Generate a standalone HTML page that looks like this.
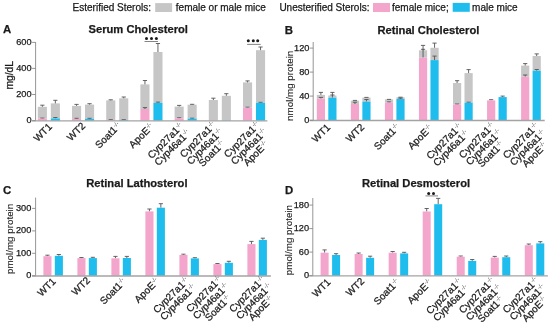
<!DOCTYPE html>
<html><head><meta charset="utf-8"><style>
html,body{margin:0;padding:0;background:#fff;}
#wrap{position:relative;width:550px;height:326px;overflow:hidden;background:#fff;font-family:"Liberation Sans",sans-serif;}
svg{position:absolute;left:0;top:0;font-family:"Liberation Sans",sans-serif;will-change:transform;}
svg text{stroke:#1a1a1a;stroke-width:0.25px;}
svg text.sp{stroke:none;fill:#333;}
.xl{position:absolute;transform-origin:100% 0;transform:rotate(-45deg);text-align:center;white-space:nowrap;font-size:10px;line-height:9.8px;color:#1a1a1a;}
.xl .s{font-size:6px;vertical-align:4px;line-height:0;}
</style></head><body><div id="wrap">
<svg width="550" height="326" viewBox="0 0 550 326">
<rect x="37.8" y="106.8" width="9.1" height="11.8" fill="#c6c6c6"/>
<line x1="42.35" y1="105.2" x2="42.35" y2="106.8" stroke="#555" stroke-width="0.9"/>
<line x1="40.25" y1="105.2" x2="44.45" y2="105.2" stroke="#555" stroke-width="0.9"/>
<line x1="42.35" y1="118.1" x2="42.35" y2="118.6" stroke="#555" stroke-width="0.9"/>
<line x1="40.25" y1="118.1" x2="44.45" y2="118.1" stroke="#555" stroke-width="0.9"/>
<rect x="37.8" y="118.6" width="9.1" height="2.1" fill="#f4a5cc"/>
<rect x="50.8" y="103.4" width="9.1" height="15" fill="#c6c6c6"/>
<line x1="55.35" y1="100.3" x2="55.35" y2="103.4" stroke="#555" stroke-width="0.9"/>
<line x1="53.25" y1="100.3" x2="57.45" y2="100.3" stroke="#555" stroke-width="0.9"/>
<line x1="55.35" y1="117.5" x2="55.35" y2="118.4" stroke="#555" stroke-width="0.9"/>
<line x1="53.25" y1="117.5" x2="57.45" y2="117.5" stroke="#555" stroke-width="0.9"/>
<rect x="50.8" y="118.4" width="9.1" height="2.3" fill="#1fbdee"/>
<rect x="72" y="105.9" width="9.1" height="13" fill="#c6c6c6"/>
<line x1="76.55" y1="104.4" x2="76.55" y2="105.9" stroke="#555" stroke-width="0.9"/>
<line x1="74.45" y1="104.4" x2="78.65" y2="104.4" stroke="#555" stroke-width="0.9"/>
<line x1="76.55" y1="118.3" x2="76.55" y2="118.9" stroke="#555" stroke-width="0.9"/>
<line x1="74.45" y1="118.3" x2="78.65" y2="118.3" stroke="#555" stroke-width="0.9"/>
<rect x="72" y="118.9" width="9.1" height="1.8" fill="#f4a5cc"/>
<rect x="85" y="104.6" width="9.1" height="14.3" fill="#c6c6c6"/>
<line x1="89.55" y1="103.7" x2="89.55" y2="104.6" stroke="#555" stroke-width="0.9"/>
<line x1="87.45" y1="103.7" x2="91.65" y2="103.7" stroke="#555" stroke-width="0.9"/>
<line x1="89.55" y1="118.3" x2="89.55" y2="118.9" stroke="#555" stroke-width="0.9"/>
<line x1="87.45" y1="118.3" x2="91.65" y2="118.3" stroke="#555" stroke-width="0.9"/>
<rect x="85" y="118.9" width="9.1" height="1.8" fill="#1fbdee"/>
<rect x="106.2" y="100.4" width="9.1" height="19.5" fill="#c6c6c6"/>
<line x1="110.75" y1="99.8" x2="110.75" y2="100.4" stroke="#555" stroke-width="0.9"/>
<line x1="108.65" y1="99.8" x2="112.85" y2="99.8" stroke="#555" stroke-width="0.9"/>
<line x1="110.75" y1="119.6" x2="110.75" y2="119.9" stroke="#555" stroke-width="0.9"/>
<line x1="108.65" y1="119.6" x2="112.85" y2="119.6" stroke="#555" stroke-width="0.9"/>
<rect x="106.2" y="119.9" width="9.1" height="0.8" fill="#f4a5cc"/>
<rect x="119.2" y="98.3" width="9.1" height="21.7" fill="#c6c6c6"/>
<line x1="123.75" y1="97" x2="123.75" y2="98.3" stroke="#555" stroke-width="0.9"/>
<line x1="121.65" y1="97" x2="125.85" y2="97" stroke="#555" stroke-width="0.9"/>
<line x1="121.65" y1="119.7" x2="125.85" y2="119.7" stroke="#555" stroke-width="0.9"/>
<rect x="119.2" y="120" width="9.1" height="0.7" fill="#1fbdee"/>
<rect x="140.4" y="84.4" width="9.1" height="24.6" fill="#c6c6c6"/>
<line x1="144.95" y1="80.5" x2="144.95" y2="84.4" stroke="#555" stroke-width="0.9"/>
<line x1="142.85" y1="80.5" x2="147.05" y2="80.5" stroke="#555" stroke-width="0.9"/>
<line x1="144.95" y1="107.6" x2="144.95" y2="109" stroke="#555" stroke-width="0.9"/>
<line x1="142.85" y1="107.6" x2="147.05" y2="107.6" stroke="#555" stroke-width="0.9"/>
<rect x="140.4" y="109" width="9.1" height="11.7" fill="#f4a5cc"/>
<rect x="153.4" y="52" width="9.1" height="50.9" fill="#c6c6c6"/>
<line x1="157.95" y1="43.5" x2="157.95" y2="52" stroke="#555" stroke-width="0.9"/>
<line x1="155.85" y1="43.5" x2="160.05" y2="43.5" stroke="#555" stroke-width="0.9"/>
<line x1="157.95" y1="102.1" x2="157.95" y2="102.9" stroke="#555" stroke-width="0.9"/>
<line x1="155.85" y1="102.1" x2="160.05" y2="102.1" stroke="#555" stroke-width="0.9"/>
<rect x="153.4" y="102.9" width="9.1" height="17.8" fill="#1fbdee"/>
<rect x="174.6" y="106.6" width="9.1" height="11.7" fill="#c6c6c6"/>
<line x1="179.15" y1="105.4" x2="179.15" y2="106.6" stroke="#555" stroke-width="0.9"/>
<line x1="177.05" y1="105.4" x2="181.25" y2="105.4" stroke="#555" stroke-width="0.9"/>
<line x1="179.15" y1="117.8" x2="179.15" y2="118.3" stroke="#555" stroke-width="0.9"/>
<line x1="177.05" y1="117.8" x2="181.25" y2="117.8" stroke="#555" stroke-width="0.9"/>
<rect x="174.6" y="118.3" width="9.1" height="2.4" fill="#f4a5cc"/>
<rect x="187.6" y="104.7" width="9.1" height="14" fill="#c6c6c6"/>
<line x1="192.15" y1="104.3" x2="192.15" y2="104.7" stroke="#555" stroke-width="0.9"/>
<line x1="190.05" y1="104.3" x2="194.25" y2="104.3" stroke="#555" stroke-width="0.9"/>
<line x1="192.15" y1="118.2" x2="192.15" y2="118.7" stroke="#555" stroke-width="0.9"/>
<line x1="190.05" y1="118.2" x2="194.25" y2="118.2" stroke="#555" stroke-width="0.9"/>
<rect x="187.6" y="118.7" width="9.1" height="2" fill="#1fbdee"/>
<rect x="208.8" y="100" width="9.1" height="20.3" fill="#c6c6c6"/>
<line x1="213.35" y1="98.2" x2="213.35" y2="100" stroke="#555" stroke-width="0.9"/>
<line x1="211.25" y1="98.2" x2="215.45" y2="98.2" stroke="#555" stroke-width="0.9"/>
<rect x="208.8" y="120.3" width="9.1" height="0.4" fill="#f4a5cc"/>
<rect x="221.8" y="95.8" width="9.1" height="24.5" fill="#c6c6c6"/>
<line x1="226.35" y1="93.7" x2="226.35" y2="95.8" stroke="#555" stroke-width="0.9"/>
<line x1="224.25" y1="93.7" x2="228.45" y2="93.7" stroke="#555" stroke-width="0.9"/>
<rect x="221.8" y="120.3" width="9.1" height="0.4" fill="#1fbdee"/>
<rect x="243" y="82.4" width="9.1" height="25.3" fill="#c6c6c6"/>
<line x1="247.55" y1="80.9" x2="247.55" y2="82.4" stroke="#555" stroke-width="0.9"/>
<line x1="245.45" y1="80.9" x2="249.65" y2="80.9" stroke="#555" stroke-width="0.9"/>
<line x1="247.55" y1="107.2" x2="247.55" y2="107.7" stroke="#555" stroke-width="0.9"/>
<line x1="245.45" y1="107.2" x2="249.65" y2="107.2" stroke="#555" stroke-width="0.9"/>
<rect x="243" y="107.7" width="9.1" height="13" fill="#f4a5cc"/>
<rect x="256" y="50.2" width="9.1" height="52.6" fill="#c6c6c6"/>
<line x1="260.55" y1="47" x2="260.55" y2="50.2" stroke="#555" stroke-width="0.9"/>
<line x1="258.45" y1="47" x2="262.65" y2="47" stroke="#555" stroke-width="0.9"/>
<line x1="260.55" y1="102.3" x2="260.55" y2="102.8" stroke="#555" stroke-width="0.9"/>
<line x1="258.45" y1="102.3" x2="262.65" y2="102.3" stroke="#555" stroke-width="0.9"/>
<rect x="256" y="102.8" width="9.1" height="17.9" fill="#1fbdee"/>
<line x1="35.6" y1="42" x2="35.6" y2="120.7" stroke="#8a8a8a" stroke-width="0.9"/>
<line x1="32.1" y1="120.9" x2="267.4" y2="120.9" stroke="#a3a3a3" stroke-width="1.3"/>
<line x1="32.1" y1="120.7" x2="35.6" y2="120.7" stroke="#8a8a8a" stroke-width="0.9"/>
<text x="31.6" y="123.1" text-anchor="end" font-size="9.2" fill="#1a1a1a">0</text>
<line x1="32.1" y1="94.5" x2="35.6" y2="94.5" stroke="#8a8a8a" stroke-width="0.9"/>
<text x="31.6" y="96.9" text-anchor="end" font-size="9.2" fill="#1a1a1a">200</text>
<line x1="32.1" y1="68.4" x2="35.6" y2="68.4" stroke="#8a8a8a" stroke-width="0.9"/>
<text x="31.6" y="70.8" text-anchor="end" font-size="9.2" fill="#1a1a1a">400</text>
<line x1="32.1" y1="42.4" x2="35.6" y2="42.4" stroke="#8a8a8a" stroke-width="0.9"/>
<text x="31.6" y="44.8" text-anchor="end" font-size="9.2" fill="#1a1a1a">600</text>
<g transform="translate(52.6,127.39999999999999) rotate(-45)" fill="#1a1a1a"><text x="0.00" y="0.00" text-anchor="end" font-size="10.0">WT1</text></g>
<g transform="translate(85.9,126.6) rotate(-45)" fill="#1a1a1a"><text x="0.00" y="0.00" text-anchor="end" font-size="10.0">WT2</text></g>
<g transform="translate(117.80000000000001,130.4) rotate(-45)" fill="#1a1a1a"><text x="0.00" y="0.00" text-anchor="end" font-size="10.0">Soat1</text><text x="0.10" y="-3.60" font-size="6.0" class="sp">-/-</text></g>
<g transform="translate(150.4,131.4) rotate(-45)" fill="#1a1a1a"><text x="0.00" y="0.00" text-anchor="end" font-size="10.0">ApoE</text><text x="0.10" y="-3.60" font-size="6.0" class="sp">-/-</text></g>
<g transform="translate(180.0,130.9) rotate(-45)" fill="#1a1a1a"><text x="0.00" y="0.00" text-anchor="end" font-size="10.0">Cyp27a1</text><text x="0.10" y="-3.60" font-size="6.0" class="sp">-/-</text><text x="0.00" y="9.80" text-anchor="end" font-size="10.0">Cyp46a1</text><text x="0.10" y="6.20" font-size="6.0" class="sp">-/-</text></g>
<g transform="translate(212.4,129.9) rotate(-45)" fill="#1a1a1a"><text x="0.00" y="0.00" text-anchor="end" font-size="10.0">Cyp27a1</text><text x="0.10" y="-3.60" font-size="6.0" class="sp">-/-</text><text x="0.00" y="9.80" text-anchor="end" font-size="10.0">Cyp46a1</text><text x="0.10" y="6.20" font-size="6.0" class="sp">-/-</text><text x="-6.95" y="19.60" text-anchor="end" font-size="10.0">Soat1</text><text x="-6.85" y="16.00" font-size="6.0" class="sp">-/-</text></g>
<g transform="translate(256.4,129.9) rotate(-45)" fill="#1a1a1a"><text x="0.00" y="0.00" text-anchor="end" font-size="10.0">Cyp27a1</text><text x="0.10" y="-3.60" font-size="6.0" class="sp">-/-</text><text x="0.00" y="9.80" text-anchor="end" font-size="10.0">Cyp46a1</text><text x="0.10" y="6.20" font-size="6.0" class="sp">-/-</text><text x="-7.78" y="19.60" text-anchor="end" font-size="10.0">ApoE</text><text x="-7.68" y="16.00" font-size="6.0" class="sp">-/-</text></g>
<rect x="316.8" y="94.9" width="8.2" height="3.7" fill="#c6c6c6"/>
<line x1="320.9" y1="92.4" x2="320.9" y2="94.9" stroke="#555" stroke-width="0.9"/>
<line x1="318.8" y1="92.4" x2="323" y2="92.4" stroke="#555" stroke-width="0.9"/>
<line x1="320.9" y1="97.4" x2="320.9" y2="98.6" stroke="#555" stroke-width="0.9"/>
<line x1="318.8" y1="97.4" x2="323" y2="97.4" stroke="#555" stroke-width="0.9"/>
<rect x="316.8" y="98.6" width="8.2" height="21.7" fill="#f4a5cc"/>
<rect x="328.3" y="95.5" width="8.2" height="2.2" fill="#c6c6c6"/>
<line x1="332.4" y1="92.4" x2="332.4" y2="95.5" stroke="#555" stroke-width="0.9"/>
<line x1="330.3" y1="92.4" x2="334.5" y2="92.4" stroke="#555" stroke-width="0.9"/>
<line x1="332.4" y1="95" x2="332.4" y2="97.7" stroke="#555" stroke-width="0.9"/>
<line x1="330.3" y1="95" x2="334.5" y2="95" stroke="#555" stroke-width="0.9"/>
<rect x="328.3" y="97.7" width="8.2" height="22.6" fill="#1fbdee"/>
<rect x="350.85" y="100.7" width="8.2" height="3.3" fill="#c6c6c6"/>
<line x1="352.85" y1="100.4" x2="357.05" y2="100.4" stroke="#555" stroke-width="0.9"/>
<line x1="354.95" y1="102.2" x2="354.95" y2="104" stroke="#555" stroke-width="0.9"/>
<line x1="352.85" y1="102.2" x2="357.05" y2="102.2" stroke="#555" stroke-width="0.9"/>
<rect x="350.85" y="104" width="8.2" height="16.3" fill="#f4a5cc"/>
<rect x="362.35" y="97.6" width="8.2" height="4" fill="#c6c6c6"/>
<line x1="364.35" y1="97.4" x2="368.55" y2="97.4" stroke="#555" stroke-width="0.9"/>
<line x1="366.45" y1="99.5" x2="366.45" y2="101.6" stroke="#555" stroke-width="0.9"/>
<line x1="364.35" y1="99.5" x2="368.55" y2="99.5" stroke="#555" stroke-width="0.9"/>
<rect x="362.35" y="101.6" width="8.2" height="18.7" fill="#1fbdee"/>
<rect x="384.9" y="99.4" width="8.2" height="3.2" fill="#c6c6c6"/>
<line x1="386.9" y1="99.4" x2="391.1" y2="99.4" stroke="#555" stroke-width="0.9"/>
<line x1="389" y1="101.9" x2="389" y2="102.6" stroke="#555" stroke-width="0.9"/>
<line x1="386.9" y1="101.9" x2="391.1" y2="101.9" stroke="#555" stroke-width="0.9"/>
<rect x="384.9" y="102.6" width="8.2" height="17.7" fill="#f4a5cc"/>
<rect x="396.4" y="97.2" width="8.2" height="1.8" fill="#c6c6c6"/>
<line x1="398.4" y1="97.2" x2="402.6" y2="97.2" stroke="#555" stroke-width="0.9"/>
<line x1="400.5" y1="98.2" x2="400.5" y2="99" stroke="#555" stroke-width="0.9"/>
<line x1="398.4" y1="98.2" x2="402.6" y2="98.2" stroke="#555" stroke-width="0.9"/>
<rect x="396.4" y="99" width="8.2" height="21.3" fill="#1fbdee"/>
<rect x="418.95" y="50.3" width="8.2" height="7.3" fill="#c6c6c6"/>
<line x1="423.05" y1="45.4" x2="423.05" y2="50.3" stroke="#555" stroke-width="0.9"/>
<line x1="420.95" y1="45.4" x2="425.15" y2="45.4" stroke="#555" stroke-width="0.9"/>
<line x1="423.05" y1="49.3" x2="423.05" y2="57.6" stroke="#555" stroke-width="0.9"/>
<line x1="420.95" y1="49.3" x2="425.15" y2="49.3" stroke="#555" stroke-width="0.9"/>
<rect x="418.95" y="57.6" width="8.2" height="62.7" fill="#f4a5cc"/>
<rect x="430.45" y="47.8" width="8.2" height="12.3" fill="#c6c6c6"/>
<line x1="434.55" y1="43.1" x2="434.55" y2="47.8" stroke="#555" stroke-width="0.9"/>
<line x1="432.45" y1="43.1" x2="436.65" y2="43.1" stroke="#555" stroke-width="0.9"/>
<line x1="434.55" y1="56.1" x2="434.55" y2="60.1" stroke="#555" stroke-width="0.9"/>
<line x1="432.45" y1="56.1" x2="436.65" y2="56.1" stroke="#555" stroke-width="0.9"/>
<rect x="430.45" y="60.1" width="8.2" height="60.2" fill="#1fbdee"/>
<rect x="453" y="83" width="8.2" height="21.5" fill="#c6c6c6"/>
<line x1="457.1" y1="80.7" x2="457.1" y2="83" stroke="#555" stroke-width="0.9"/>
<line x1="455" y1="80.7" x2="459.2" y2="80.7" stroke="#555" stroke-width="0.9"/>
<line x1="457.1" y1="104" x2="457.1" y2="104.5" stroke="#555" stroke-width="0.9"/>
<line x1="455" y1="104" x2="459.2" y2="104" stroke="#555" stroke-width="0.9"/>
<rect x="453" y="104.5" width="8.2" height="15.8" fill="#f4a5cc"/>
<rect x="464.5" y="73.1" width="8.2" height="29.6" fill="#c6c6c6"/>
<line x1="468.6" y1="69.6" x2="468.6" y2="73.1" stroke="#555" stroke-width="0.9"/>
<line x1="466.5" y1="69.6" x2="470.7" y2="69.6" stroke="#555" stroke-width="0.9"/>
<line x1="468.6" y1="102.2" x2="468.6" y2="102.7" stroke="#555" stroke-width="0.9"/>
<line x1="466.5" y1="102.2" x2="470.7" y2="102.2" stroke="#555" stroke-width="0.9"/>
<rect x="464.5" y="102.7" width="8.2" height="17.6" fill="#1fbdee"/>
<line x1="491.15" y1="99.7" x2="491.15" y2="100.4" stroke="#555" stroke-width="0.9"/>
<line x1="489.05" y1="99.7" x2="493.25" y2="99.7" stroke="#555" stroke-width="0.9"/>
<rect x="487.05" y="100.4" width="8.2" height="19.9" fill="#f4a5cc"/>
<line x1="502.65" y1="96.1" x2="502.65" y2="97.1" stroke="#555" stroke-width="0.9"/>
<line x1="500.55" y1="96.1" x2="504.75" y2="96.1" stroke="#555" stroke-width="0.9"/>
<rect x="498.55" y="97.1" width="8.2" height="23.2" fill="#1fbdee"/>
<rect x="521.1" y="65.6" width="8.2" height="11.1" fill="#c6c6c6"/>
<line x1="525.2" y1="63.6" x2="525.2" y2="65.6" stroke="#555" stroke-width="0.9"/>
<line x1="523.1" y1="63.6" x2="527.3" y2="63.6" stroke="#555" stroke-width="0.9"/>
<line x1="525.2" y1="75" x2="525.2" y2="76.7" stroke="#555" stroke-width="0.9"/>
<line x1="523.1" y1="75" x2="527.3" y2="75" stroke="#555" stroke-width="0.9"/>
<rect x="521.1" y="76.7" width="8.2" height="43.6" fill="#f4a5cc"/>
<rect x="532.6" y="56" width="8.2" height="14.7" fill="#c6c6c6"/>
<line x1="536.7" y1="53.9" x2="536.7" y2="56" stroke="#555" stroke-width="0.9"/>
<line x1="534.6" y1="53.9" x2="538.8" y2="53.9" stroke="#555" stroke-width="0.9"/>
<line x1="536.7" y1="69.5" x2="536.7" y2="70.7" stroke="#555" stroke-width="0.9"/>
<line x1="534.6" y1="69.5" x2="538.8" y2="69.5" stroke="#555" stroke-width="0.9"/>
<rect x="532.6" y="70.7" width="8.2" height="49.6" fill="#1fbdee"/>
<line x1="313.2" y1="42" x2="313.2" y2="120.3" stroke="#8a8a8a" stroke-width="0.9"/>
<line x1="309.7" y1="120.5" x2="544.7" y2="120.5" stroke="#a3a3a3" stroke-width="1.3"/>
<line x1="309.7" y1="120.3" x2="313.2" y2="120.3" stroke="#8a8a8a" stroke-width="0.9"/>
<text x="309.4" y="122.7" text-anchor="end" font-size="9.2" fill="#1a1a1a">0</text>
<line x1="309.7" y1="96.1" x2="313.2" y2="96.1" stroke="#8a8a8a" stroke-width="0.9"/>
<text x="309.4" y="98.5" text-anchor="end" font-size="9.2" fill="#1a1a1a">40</text>
<line x1="309.7" y1="72.1" x2="313.2" y2="72.1" stroke="#8a8a8a" stroke-width="0.9"/>
<text x="309.4" y="74.5" text-anchor="end" font-size="9.2" fill="#1a1a1a">80</text>
<line x1="309.7" y1="48.1" x2="313.2" y2="48.1" stroke="#8a8a8a" stroke-width="0.9"/>
<text x="309.4" y="50.5" text-anchor="end" font-size="9.2" fill="#1a1a1a">120</text>
<g transform="translate(330.9,127.99999999999999) rotate(-45)" fill="#1a1a1a"><text x="0.00" y="0.00" text-anchor="end" font-size="10.0">WT1</text></g>
<g transform="translate(364.9,127.8) rotate(-45)" fill="#1a1a1a"><text x="0.00" y="0.00" text-anchor="end" font-size="10.0">WT2</text></g>
<g transform="translate(396.4,131.9) rotate(-45)" fill="#1a1a1a"><text x="0.00" y="0.00" text-anchor="end" font-size="10.0">Soat1</text><text x="0.10" y="-3.60" font-size="6.0" class="sp">-/-</text></g>
<g transform="translate(429.2,132.8) rotate(-45)" fill="#1a1a1a"><text x="0.00" y="0.00" text-anchor="end" font-size="10.0">ApoE</text><text x="0.10" y="-3.60" font-size="6.0" class="sp">-/-</text></g>
<g transform="translate(458.7,131.5) rotate(-45)" fill="#1a1a1a"><text x="0.00" y="0.00" text-anchor="end" font-size="10.0">Cyp27a1</text><text x="0.10" y="-3.60" font-size="6.0" class="sp">-/-</text><text x="0.00" y="9.80" text-anchor="end" font-size="10.0">Cyp46a1</text><text x="0.10" y="6.20" font-size="6.0" class="sp">-/-</text></g>
<g transform="translate(491.4,130.60000000000002) rotate(-45)" fill="#1a1a1a"><text x="0.00" y="0.00" text-anchor="end" font-size="10.0">Cyp27a1</text><text x="0.10" y="-3.60" font-size="6.0" class="sp">-/-</text><text x="0.00" y="9.80" text-anchor="end" font-size="10.0">Cyp46a1</text><text x="0.10" y="6.20" font-size="6.0" class="sp">-/-</text><text x="-6.95" y="19.60" text-anchor="end" font-size="10.0">Soat1</text><text x="-6.85" y="16.00" font-size="6.0" class="sp">-/-</text></g>
<g transform="translate(535.3,131.0) rotate(-45)" fill="#1a1a1a"><text x="0.00" y="0.00" text-anchor="end" font-size="10.0">Cyp27a1</text><text x="0.10" y="-3.60" font-size="6.0" class="sp">-/-</text><text x="0.00" y="9.80" text-anchor="end" font-size="10.0">Cyp46a1</text><text x="0.10" y="6.20" font-size="6.0" class="sp">-/-</text><text x="-7.78" y="19.60" text-anchor="end" font-size="10.0">ApoE</text><text x="-7.68" y="16.00" font-size="6.0" class="sp">-/-</text></g>
<line x1="47.45" y1="255.2" x2="47.45" y2="256.2" stroke="#555" stroke-width="0.9"/>
<line x1="45.35" y1="255.2" x2="49.55" y2="255.2" stroke="#555" stroke-width="0.9"/>
<rect x="43.4" y="256.2" width="8.1" height="19.6" fill="#f4a5cc"/>
<line x1="58.85" y1="254.5" x2="58.85" y2="255.8" stroke="#555" stroke-width="0.9"/>
<line x1="56.75" y1="254.5" x2="60.95" y2="254.5" stroke="#555" stroke-width="0.9"/>
<rect x="54.8" y="255.8" width="8.1" height="20" fill="#1fbdee"/>
<line x1="81.45" y1="257.5" x2="81.45" y2="258.1" stroke="#555" stroke-width="0.9"/>
<line x1="79.35" y1="257.5" x2="83.55" y2="257.5" stroke="#555" stroke-width="0.9"/>
<rect x="77.4" y="258.1" width="8.1" height="17.7" fill="#f4a5cc"/>
<line x1="92.85" y1="257.3" x2="92.85" y2="258.1" stroke="#555" stroke-width="0.9"/>
<line x1="90.75" y1="257.3" x2="94.95" y2="257.3" stroke="#555" stroke-width="0.9"/>
<rect x="88.8" y="258.1" width="8.1" height="17.7" fill="#1fbdee"/>
<line x1="115.45" y1="256.4" x2="115.45" y2="258.3" stroke="#555" stroke-width="0.9"/>
<line x1="113.35" y1="256.4" x2="117.55" y2="256.4" stroke="#555" stroke-width="0.9"/>
<rect x="111.4" y="258.3" width="8.1" height="17.5" fill="#f4a5cc"/>
<line x1="126.85" y1="256.4" x2="126.85" y2="258" stroke="#555" stroke-width="0.9"/>
<line x1="124.75" y1="256.4" x2="128.95" y2="256.4" stroke="#555" stroke-width="0.9"/>
<rect x="122.8" y="258" width="8.1" height="17.8" fill="#1fbdee"/>
<line x1="149.45" y1="209" x2="149.45" y2="211.4" stroke="#555" stroke-width="0.9"/>
<line x1="147.35" y1="209" x2="151.55" y2="209" stroke="#555" stroke-width="0.9"/>
<rect x="145.4" y="211.4" width="8.1" height="64.4" fill="#f4a5cc"/>
<line x1="160.85" y1="203.7" x2="160.85" y2="207.7" stroke="#555" stroke-width="0.9"/>
<line x1="158.75" y1="203.7" x2="162.95" y2="203.7" stroke="#555" stroke-width="0.9"/>
<rect x="156.8" y="207.7" width="8.1" height="68.1" fill="#1fbdee"/>
<line x1="183.45" y1="254.2" x2="183.45" y2="254.9" stroke="#555" stroke-width="0.9"/>
<line x1="181.35" y1="254.2" x2="185.55" y2="254.2" stroke="#555" stroke-width="0.9"/>
<rect x="179.4" y="254.9" width="8.1" height="20.9" fill="#f4a5cc"/>
<line x1="194.85" y1="257.7" x2="194.85" y2="258.4" stroke="#555" stroke-width="0.9"/>
<line x1="192.75" y1="257.7" x2="196.95" y2="257.7" stroke="#555" stroke-width="0.9"/>
<rect x="190.8" y="258.4" width="8.1" height="17.4" fill="#1fbdee"/>
<line x1="217.45" y1="263.5" x2="217.45" y2="264.1" stroke="#555" stroke-width="0.9"/>
<line x1="215.35" y1="263.5" x2="219.55" y2="263.5" stroke="#555" stroke-width="0.9"/>
<rect x="213.4" y="264.1" width="8.1" height="11.7" fill="#f4a5cc"/>
<line x1="228.85" y1="261.3" x2="228.85" y2="262.8" stroke="#555" stroke-width="0.9"/>
<line x1="226.75" y1="261.3" x2="230.95" y2="261.3" stroke="#555" stroke-width="0.9"/>
<rect x="224.8" y="262.8" width="8.1" height="13" fill="#1fbdee"/>
<line x1="251.45" y1="241.4" x2="251.45" y2="244.1" stroke="#555" stroke-width="0.9"/>
<line x1="249.35" y1="241.4" x2="253.55" y2="241.4" stroke="#555" stroke-width="0.9"/>
<rect x="247.4" y="244.1" width="8.1" height="31.7" fill="#f4a5cc"/>
<line x1="262.85" y1="238.2" x2="262.85" y2="239.9" stroke="#555" stroke-width="0.9"/>
<line x1="260.75" y1="238.2" x2="264.95" y2="238.2" stroke="#555" stroke-width="0.9"/>
<rect x="258.8" y="239.9" width="8.1" height="35.9" fill="#1fbdee"/>
<line x1="35.6" y1="197.6" x2="35.6" y2="275.8" stroke="#8a8a8a" stroke-width="0.9"/>
<line x1="32.1" y1="276" x2="270.9" y2="276" stroke="#a3a3a3" stroke-width="1.3"/>
<line x1="32.1" y1="275.8" x2="35.6" y2="275.8" stroke="#8a8a8a" stroke-width="0.9"/>
<text x="31.3" y="278.2" text-anchor="end" font-size="9.2" fill="#1a1a1a">0</text>
<line x1="32.1" y1="253.3" x2="35.6" y2="253.3" stroke="#8a8a8a" stroke-width="0.9"/>
<text x="31.3" y="255.7" text-anchor="end" font-size="9.2" fill="#1a1a1a">100</text>
<line x1="32.1" y1="230.9" x2="35.6" y2="230.9" stroke="#8a8a8a" stroke-width="0.9"/>
<text x="31.3" y="233.3" text-anchor="end" font-size="9.2" fill="#1a1a1a">200</text>
<line x1="32.1" y1="208.4" x2="35.6" y2="208.4" stroke="#8a8a8a" stroke-width="0.9"/>
<text x="31.3" y="210.8" text-anchor="end" font-size="9.2" fill="#1a1a1a">300</text>
<g transform="translate(56.5,282.0) rotate(-45)" fill="#1a1a1a"><text x="0.00" y="0.00" text-anchor="end" font-size="10.0">WT1</text></g>
<g transform="translate(90.80000000000001,281.0) rotate(-45)" fill="#1a1a1a"><text x="0.00" y="0.00" text-anchor="end" font-size="10.0">WT2</text></g>
<g transform="translate(122.60000000000001,286.40000000000003) rotate(-45)" fill="#1a1a1a"><text x="0.00" y="0.00" text-anchor="end" font-size="10.0">Soat1</text><text x="0.10" y="-3.60" font-size="6.0" class="sp">-/-</text></g>
<g transform="translate(155.9,286.1) rotate(-45)" fill="#1a1a1a"><text x="0.00" y="0.00" text-anchor="end" font-size="10.0">ApoE</text><text x="0.10" y="-3.60" font-size="6.0" class="sp">-/-</text></g>
<g transform="translate(185.6,285.40000000000003) rotate(-45)" fill="#1a1a1a"><text x="0.00" y="0.00" text-anchor="end" font-size="10.0">Cyp27a1</text><text x="0.10" y="-3.60" font-size="6.0" class="sp">-/-</text><text x="0.00" y="9.80" text-anchor="end" font-size="10.0">Cyp46a1</text><text x="0.10" y="6.20" font-size="6.0" class="sp">-/-</text></g>
<g transform="translate(218.5,284.40000000000003) rotate(-45)" fill="#1a1a1a"><text x="0.00" y="0.00" text-anchor="end" font-size="10.0">Cyp27a1</text><text x="0.10" y="-3.60" font-size="6.0" class="sp">-/-</text><text x="0.00" y="9.80" text-anchor="end" font-size="10.0">Cyp46a1</text><text x="0.10" y="6.20" font-size="6.0" class="sp">-/-</text><text x="-6.95" y="19.60" text-anchor="end" font-size="10.0">Soat1</text><text x="-6.85" y="16.00" font-size="6.0" class="sp">-/-</text></g>
<g transform="translate(261.59999999999997,284.6) rotate(-45)" fill="#1a1a1a"><text x="0.00" y="0.00" text-anchor="end" font-size="10.0">Cyp27a1</text><text x="0.10" y="-3.60" font-size="6.0" class="sp">-/-</text><text x="0.00" y="9.80" text-anchor="end" font-size="10.0">Cyp46a1</text><text x="0.10" y="6.20" font-size="6.0" class="sp">-/-</text><text x="-7.78" y="19.60" text-anchor="end" font-size="10.0">ApoE</text><text x="-7.68" y="16.00" font-size="6.0" class="sp">-/-</text></g>
<line x1="324.6" y1="249.9" x2="324.6" y2="252.7" stroke="#555" stroke-width="0.9"/>
<line x1="322.5" y1="249.9" x2="326.7" y2="249.9" stroke="#555" stroke-width="0.9"/>
<rect x="320.6" y="252.7" width="8" height="23" fill="#f4a5cc"/>
<line x1="336.1" y1="253.7" x2="336.1" y2="255" stroke="#555" stroke-width="0.9"/>
<line x1="334" y1="253.7" x2="338.2" y2="253.7" stroke="#555" stroke-width="0.9"/>
<rect x="332.1" y="255" width="8" height="20.7" fill="#1fbdee"/>
<line x1="358.63" y1="253" x2="358.63" y2="254" stroke="#555" stroke-width="0.9"/>
<line x1="356.53" y1="253" x2="360.73" y2="253" stroke="#555" stroke-width="0.9"/>
<rect x="354.63" y="254" width="8" height="21.7" fill="#f4a5cc"/>
<line x1="370.13" y1="256.2" x2="370.13" y2="257.8" stroke="#555" stroke-width="0.9"/>
<line x1="368.03" y1="256.2" x2="372.23" y2="256.2" stroke="#555" stroke-width="0.9"/>
<rect x="366.13" y="257.8" width="8" height="17.9" fill="#1fbdee"/>
<line x1="392.66" y1="251.5" x2="392.66" y2="252.7" stroke="#555" stroke-width="0.9"/>
<line x1="390.56" y1="251.5" x2="394.76" y2="251.5" stroke="#555" stroke-width="0.9"/>
<rect x="388.66" y="252.7" width="8" height="23" fill="#f4a5cc"/>
<line x1="404.16" y1="252.3" x2="404.16" y2="253.4" stroke="#555" stroke-width="0.9"/>
<line x1="402.06" y1="252.3" x2="406.26" y2="252.3" stroke="#555" stroke-width="0.9"/>
<rect x="400.16" y="253.4" width="8" height="22.3" fill="#1fbdee"/>
<line x1="426.69" y1="208.5" x2="426.69" y2="211.5" stroke="#555" stroke-width="0.9"/>
<line x1="424.59" y1="208.5" x2="428.79" y2="208.5" stroke="#555" stroke-width="0.9"/>
<rect x="422.69" y="211.5" width="8" height="64.2" fill="#f4a5cc"/>
<line x1="438.19" y1="198.4" x2="438.19" y2="204.2" stroke="#555" stroke-width="0.9"/>
<line x1="436.09" y1="198.4" x2="440.29" y2="198.4" stroke="#555" stroke-width="0.9"/>
<rect x="434.19" y="204.2" width="8" height="71.5" fill="#1fbdee"/>
<line x1="460.72" y1="256" x2="460.72" y2="256.7" stroke="#555" stroke-width="0.9"/>
<line x1="458.62" y1="256" x2="462.82" y2="256" stroke="#555" stroke-width="0.9"/>
<rect x="456.72" y="256.7" width="8" height="19" fill="#f4a5cc"/>
<line x1="472.22" y1="259.5" x2="472.22" y2="260.9" stroke="#555" stroke-width="0.9"/>
<line x1="470.12" y1="259.5" x2="474.32" y2="259.5" stroke="#555" stroke-width="0.9"/>
<rect x="468.22" y="260.9" width="8" height="14.8" fill="#1fbdee"/>
<line x1="494.75" y1="256.4" x2="494.75" y2="257.6" stroke="#555" stroke-width="0.9"/>
<line x1="492.65" y1="256.4" x2="496.85" y2="256.4" stroke="#555" stroke-width="0.9"/>
<rect x="490.75" y="257.6" width="8" height="18.1" fill="#f4a5cc"/>
<line x1="506.25" y1="256" x2="506.25" y2="257.2" stroke="#555" stroke-width="0.9"/>
<line x1="504.15" y1="256" x2="508.35" y2="256" stroke="#555" stroke-width="0.9"/>
<rect x="502.25" y="257.2" width="8" height="18.5" fill="#1fbdee"/>
<line x1="528.78" y1="244" x2="528.78" y2="245.2" stroke="#555" stroke-width="0.9"/>
<line x1="526.68" y1="244" x2="530.88" y2="244" stroke="#555" stroke-width="0.9"/>
<rect x="524.78" y="245.2" width="8" height="30.5" fill="#f4a5cc"/>
<line x1="540.28" y1="241.7" x2="540.28" y2="243.4" stroke="#555" stroke-width="0.9"/>
<line x1="538.18" y1="241.7" x2="542.38" y2="241.7" stroke="#555" stroke-width="0.9"/>
<rect x="536.28" y="243.4" width="8" height="32.3" fill="#1fbdee"/>
<line x1="312.8" y1="198" x2="312.8" y2="275.7" stroke="#8a8a8a" stroke-width="0.9"/>
<line x1="309.3" y1="275.9" x2="547.9" y2="275.9" stroke="#a3a3a3" stroke-width="1.3"/>
<line x1="309.3" y1="275.7" x2="312.8" y2="275.7" stroke="#8a8a8a" stroke-width="0.9"/>
<text x="309" y="278.1" text-anchor="end" font-size="9.2" fill="#1a1a1a">0</text>
<line x1="309.3" y1="252.1" x2="312.8" y2="252.1" stroke="#8a8a8a" stroke-width="0.9"/>
<text x="309" y="254.5" text-anchor="end" font-size="9.2" fill="#1a1a1a">60</text>
<line x1="309.3" y1="228.6" x2="312.8" y2="228.6" stroke="#8a8a8a" stroke-width="0.9"/>
<text x="309" y="231" text-anchor="end" font-size="9.2" fill="#1a1a1a">120</text>
<line x1="309.3" y1="205.1" x2="312.8" y2="205.1" stroke="#8a8a8a" stroke-width="0.9"/>
<text x="309" y="207.5" text-anchor="end" font-size="9.2" fill="#1a1a1a">180</text>
<g transform="translate(331.2,282.8) rotate(-45)" fill="#1a1a1a"><text x="0.00" y="0.00" text-anchor="end" font-size="10.0">WT1</text></g>
<g transform="translate(365.0,281.90000000000003) rotate(-45)" fill="#1a1a1a"><text x="0.00" y="0.00" text-anchor="end" font-size="10.0">WT2</text></g>
<g transform="translate(396.2,286.90000000000003) rotate(-45)" fill="#1a1a1a"><text x="0.00" y="0.00" text-anchor="end" font-size="10.0">Soat1</text><text x="0.10" y="-3.60" font-size="6.0" class="sp">-/-</text></g>
<g transform="translate(428.7,287.3) rotate(-45)" fill="#1a1a1a"><text x="0.00" y="0.00" text-anchor="end" font-size="10.0">ApoE</text><text x="0.10" y="-3.60" font-size="6.0" class="sp">-/-</text></g>
<g transform="translate(458.59999999999997,286.40000000000003) rotate(-45)" fill="#1a1a1a"><text x="0.00" y="0.00" text-anchor="end" font-size="10.0">Cyp27a1</text><text x="0.10" y="-3.60" font-size="6.0" class="sp">-/-</text><text x="0.00" y="9.80" text-anchor="end" font-size="10.0">Cyp46a1</text><text x="0.10" y="6.20" font-size="6.0" class="sp">-/-</text></g>
<g transform="translate(491.29999999999995,285.7) rotate(-45)" fill="#1a1a1a"><text x="0.00" y="0.00" text-anchor="end" font-size="10.0">Cyp27a1</text><text x="0.10" y="-3.60" font-size="6.0" class="sp">-/-</text><text x="0.00" y="9.80" text-anchor="end" font-size="10.0">Cyp46a1</text><text x="0.10" y="6.20" font-size="6.0" class="sp">-/-</text><text x="-6.95" y="19.60" text-anchor="end" font-size="10.0">Soat1</text><text x="-6.85" y="16.00" font-size="6.0" class="sp">-/-</text></g>
<g transform="translate(535.1,285.5) rotate(-45)" fill="#1a1a1a"><text x="0.00" y="0.00" text-anchor="end" font-size="10.0">Cyp27a1</text><text x="0.10" y="-3.60" font-size="6.0" class="sp">-/-</text><text x="0.00" y="9.80" text-anchor="end" font-size="10.0">Cyp46a1</text><text x="0.10" y="6.20" font-size="6.0" class="sp">-/-</text><text x="-7.78" y="19.60" text-anchor="end" font-size="10.0">ApoE</text><text x="-7.68" y="16.00" font-size="6.0" class="sp">-/-</text></g>
<text x="2.9" y="32.6" font-size="11.4" font-weight="bold" text-anchor="start" fill="#1a1a1a">A</text>
<text x="284.7" y="33.8" font-size="11.4" font-weight="bold" text-anchor="start" fill="#1a1a1a">B</text>
<text x="3.1" y="194.1" font-size="11.4" font-weight="bold" text-anchor="start" fill="#1a1a1a">C</text>
<text x="284.9" y="193.8" font-size="11.4" font-weight="bold" text-anchor="start" fill="#1a1a1a">D</text>
<text x="138.2" y="33.3" font-size="11.2" font-weight="bold" text-anchor="middle" fill="#1a1a1a">Serum Cholesterol</text>
<text x="428.4" y="33.5" font-size="11.2" font-weight="bold" text-anchor="middle" fill="#1a1a1a">Retinal Cholesterol</text>
<text x="136.9" y="186.9" font-size="11.2" font-weight="bold" text-anchor="middle" fill="#1a1a1a">Retinal Lathosterol</text>
<text x="416.0" y="187.3" font-size="11.2" font-weight="bold" text-anchor="middle" fill="#1a1a1a">Retinal Desmosterol</text>
<text x="72.6" y="10.9" font-size="10" font-weight="normal" text-anchor="start" fill="#1a1a1a">Esterified Sterols:</text>
<text x="175.8" y="10.9" font-size="10" font-weight="normal" text-anchor="start" fill="#1a1a1a">female or male mice</text>
<text x="279.4" y="10.9" font-size="10" font-weight="normal" text-anchor="start" fill="#1a1a1a">Unesterified Sterols:</text>
<text x="392.0" y="10.9" font-size="10" font-weight="normal" text-anchor="start" fill="#1a1a1a">female mice;</text>
<text x="472.1" y="10.9" font-size="10" font-weight="normal" text-anchor="start" fill="#1a1a1a">male mice</text>
<rect x="155.2" y="3.1" width="16.9" height="8.9" fill="#c6c6c6"/>
<rect x="373.0" y="3.0" width="17.0" height="9.0" fill="#f4a5cc"/>
<rect x="452.7" y="2.9" width="17.1" height="8.9" fill="#1fbdee"/>
<text transform="translate(12.6,75.3) rotate(-90)" x="0" y="0" font-size="10.3" text-anchor="middle" fill="#1a1a1a" style="stroke-width:0.25px">mg/dL</text>
<text transform="translate(292.7,85.8) rotate(-90)" x="0" y="0" font-size="9.8" text-anchor="middle" fill="#1a1a1a" style="stroke-width:0.1px">nmol/mg protein</text>
<text transform="translate(12.6,238.9) rotate(-90)" x="0" y="0" font-size="9.8" text-anchor="middle" fill="#1a1a1a" style="stroke-width:0.1px">pmol/mg protein</text>
<text transform="translate(291.6,240.1) rotate(-90)" x="0" y="0" font-size="9.8" text-anchor="middle" fill="#1a1a1a" style="stroke-width:0.1px">pmol/mg protein</text>
<line x1="144.5" y1="41.5" x2="158.0" y2="41.5" stroke="#666" stroke-width="0.8"/>
<circle cx="146.5" cy="38.6" r="1.5" fill="#1a1a1a"/>
<circle cx="151.5" cy="38.6" r="1.5" fill="#1a1a1a"/>
<circle cx="156.4" cy="38.6" r="1.5" fill="#1a1a1a"/>
<line x1="247.1" y1="44.4" x2="260.7" y2="44.4" stroke="#666" stroke-width="0.8"/>
<circle cx="248.3" cy="40.8" r="1.5" fill="#1a1a1a"/>
<circle cx="253.3" cy="40.8" r="1.5" fill="#1a1a1a"/>
<circle cx="257.7" cy="40.8" r="1.5" fill="#1a1a1a"/>
<line x1="425.5" y1="195.9" x2="438.0" y2="195.9" stroke="#666" stroke-width="0.8"/>
<circle cx="428.7" cy="193.4" r="1.5" fill="#1a1a1a"/>
<circle cx="433.5" cy="193.4" r="1.5" fill="#1a1a1a"/>
</svg>

</div></body></html>
